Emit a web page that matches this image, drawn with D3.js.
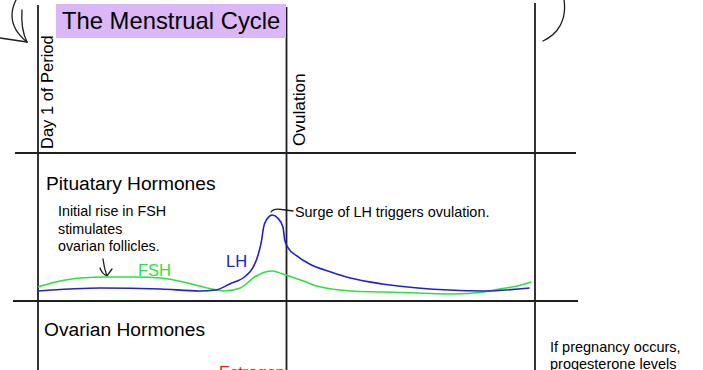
<!DOCTYPE html>
<html>
<head>
<meta charset="utf-8">
<script src="https://cdn.jsdelivr.net/npm/d3@7"></script>
<style>
    body { margin: 0; background: #fff; }
    svg { display: block; font-family: "Liberation Sans", Arial, sans-serif; }
</style>
</head>
<body>
<svg class="cycle"></svg>
<script>
// cycle days (0 = day 1 of period, 14 = ovulation, 28 = end)
var markerDays = [0, 14, 28];
var markerLabels = ["Day 1 of Period", "Ovulation"];

// LH level (pituitary panel, 0-100)
var lhDays = [0, 1.8, 3.5, 6.9, 9.1, 10.0, 10.8, 11.7, 12.1, 12.4, 12.6, 12.7, 12.9, 13.2, 13.5, 13.8, 13.9, 14.1, 14.6, 15.3, 16.5, 17.6, 19.4, 21.4, 23.2, 25.1, 27.7];
var lhLevels = [6.8, 8.1, 8.8, 8.1, 6.8, 7.4, 11.5, 16.9, 22.3, 31.1, 41.2, 49.3, 55.4, 58.1, 56.1, 50.0, 41.2, 35.8, 30.4, 25.0, 19.6, 15.5, 11.5, 8.8, 7.4, 6.8, 8.8];

// FSH level
var fshDays = [0, 1.0, 2.4, 3.9, 5.5, 6.9, 8.2, 9.1, 9.8, 10.5, 11.4, 12.2, 12.8, 13.2, 13.8, 14.3, 14.8, 15.7, 17.6, 19.4, 21.4, 23.4, 25.1, 26.0, 27.0, 27.8];
var fshLevels = [9.5, 12.8, 15.5, 16.2, 16.2, 15.5, 12.8, 10.1, 8.1, 6.8, 8.8, 16.2, 19.6, 20.3, 18.2, 16.2, 14.2, 10.1, 6.8, 6.1, 5.4, 4.7, 6.1, 8.1, 10.1, 12.8];

var svgWidth = 703,
    svgHeight = 370;

var svg = d3.select('.cycle')
    .attr('width', svgWidth)
    .attr('height', svgHeight);

var x = d3.scaleLinear()
    .domain([0, 28])
    .range([38, 535]);

var y = d3.scaleLinear()
    .domain([0, 100])
    .range([301, 153]);

var ink = '#1e1e1e';

// grid
svg.selectAll('.vline')
    .data(markerDays)
    .enter()
    .append('line')
    .attr('x1', function (d) { return x(d); })
    .attr('x2', function (d) { return x(d); })
    .attr('y1', function (d, i) { return [5, 7, 3][i]; })
    .attr('y2', svgHeight)
    .attr('stroke', ink)
    .attr('stroke-width', 1.8);

svg.selectAll('.hline')
    .data([100, 0])
    .enter()
    .append('line')
    .attr('x1', function (d, i) { return [15, 13][i]; })
    .attr('x2', function (d, i) { return [576, 578][i]; })
    .attr('y1', function (d) { return y(d); })
    .attr('y2', function (d) { return y(d); })
    .attr('stroke', ink)
    .attr('stroke-width', 1.8);

// title
svg.append('rect')
    .attr('x', 56)
    .attr('y', 4)
    .attr('width', 230)
    .attr('height', 34)
    .attr('fill', '#dcb7f7');

svg.append('text')
    .attr('x', 62)
    .attr('y', 29)
    .attr('font-size', 23.8)
    .attr('fill', '#000')
    .text('The Menstrual Cycle');

// rotated markers
svg.selectAll('.marker')
    .data(markerLabels)
    .enter()
    .append('text')
    .attr('transform', function (d, i) {
        return 'translate(' + (x(markerDays[i]) + [15, 18][i]) + ',' + [149, 146][i] + ') rotate(-90)';
    })
    .attr('font-size', function (d, i) { return [16.5, 17.2][i]; })
    .attr('fill', '#000')
    .text(function (d) { return d; });

// hand drawn arrows at the top
var pen = svg.append('g')
    .attr('fill', 'none')
    .attr('stroke', ink)
    .attr('stroke-width', 1.3)
    .attr('stroke-linecap', 'round');

pen.append('path').attr('d', 'M16,0 C9,14 11,29 27,42');
pen.append('path').attr('d', 'M22,10 C21,24 23,34 27,42');
pen.append('path').attr('d', 'M0,38 L27,42');
pen.append('path').attr('d', 'M564,0 C567,20 558,34 543,41');

// pituitary panel
svg.append('text')
    .attr('x', 46)
    .attr('y', 190)
    .attr('font-size', 19.2)
    .attr('fill', '#000')
    .text('Pituatary Hormones');

var note = ['Initial rise in FSH', 'stimulates', 'ovarian follicles.'];
svg.selectAll('.note')
    .data(note)
    .enter()
    .append('text')
    .attr('x', 58)
    .attr('y', function (d, i) { return 216 + i * 17.7; })
    .attr('font-size', 14.3)
    .attr('fill', '#000')
    .text(function (d) { return d; });

pen.append('path').attr('d', 'M103,259 Q104,268 107,276 M100,268 Q102,274 107,276 L112,269');
pen.append('path').attr('d', 'M271,212 C273,209 277,208.5 282,209.5 L293,211');

svg.append('text')
    .attr('x', 295)
    .attr('y', 217)
    .attr('font-size', 14.4)
    .attr('fill', '#000')
    .text('Surge of LH triggers ovulation.');

var line = d3.line()
    .x(function (d) { return x(d[0]); })
    .y(function (d) { return y(d[1]); })
    .curve(d3.curveMonotoneX);

svg.append('path')
    .datum(d3.zip(fshDays, fshLevels))
    .attr('fill', 'none')
    .attr('stroke', '#2be23c')
    .attr('stroke-width', 1.6)
    .attr('d', line);

svg.append('path')
    .datum(d3.zip(lhDays, lhLevels))
    .attr('fill', 'none')
    .attr('stroke', '#2020d4')
    .attr('stroke-width', 1.6)
    .attr('d', line);

svg.append('text')
    .attr('x', 138)
    .attr('y', 276)
    .attr('font-size', 16.5)
    .attr('fill', '#2be23c')
    .text('FSH');

svg.append('text')
    .attr('x', 226)
    .attr('y', 267)
    .attr('font-size', 16.5)
    .attr('fill', '#2020d4')
    .text('LH');

// ovarian panel
svg.append('text')
    .attr('x', 44)
    .attr('y', 336)
    .attr('font-size', 19.2)
    .attr('fill', '#000')
    .text('Ovarian Hormones');

svg.append('text')
    .attr('x', 219)
    .attr('y', 378)
    .attr('font-size', 16.5)
    .attr('fill', '#ee1c1c')
    .text('Estrogen');

var side = ['If pregnancy occurs,', 'progesterone levels'];
svg.selectAll('.side')
    .data(side)
    .enter()
    .append('text')
    .attr('x', 550)
    .attr('y', function (d, i) { return 352 + i * 17; })
    .attr('font-size', 14.5)
    .attr('fill', '#000')
    .text(function (d) { return d; });
</script>
</body>
</html>
